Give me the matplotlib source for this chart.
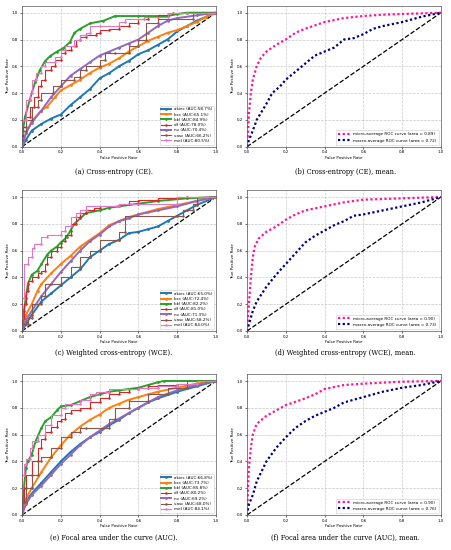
import matplotlib
matplotlib.use("Agg")
import matplotlib.pyplot as plt
import numpy as np

classes = ["akiec", "bcc", "bkl", "df", "nv", "vasc", "mel"]
colors = ["#1f77b4", "#ff7f0e", "#2ca02c", "#d62728", "#9467bd", "#8c564b", "#e377c2"]
step_classes = ["df", "vasc", "mel"]

# ---------------- Panel (a): Cross-entropy ----------------
ce_auc = [58.7, 65.1, 84.9, 78.0, 70.4, 66.2, 80.5]
ce_akiec_x = [0, 0.02, 0.05, 0.1, 0.15, 0.2, 0.25, 0.3, 0.35, 0.4, 0.45, 0.5, 0.55, 0.6, 0.65, 0.7, 0.75, 0.8, 0.85, 0.9, 0.95, 1]
ce_akiec_y = [0, 0.05, 0.12, 0.17, 0.21, 0.24, 0.31, 0.37, 0.43, 0.51, 0.55, 0.6, 0.64, 0.69, 0.72, 0.76, 0.8, 0.86, 0.9, 0.94, 0.97, 1]
ce_bcc_x = [0, 0.02, 0.05, 0.1, 0.13, 0.17, 0.2, 0.25, 0.3, 0.35, 0.4, 0.45, 0.5, 0.55, 0.6, 0.65, 0.7, 0.75, 0.8, 0.85, 0.9, 0.95, 1]
ce_bcc_y = [0, 0.1, 0.19, 0.27, 0.3, 0.37, 0.42, 0.46, 0.5, 0.55, 0.59, 0.62, 0.66, 0.71, 0.75, 0.79, 0.82, 0.85, 0.87, 0.9, 0.93, 0.97, 1]
ce_bkl_x = [0, 0.005, 0.015, 0.04, 0.067, 0.093, 0.12, 0.144, 0.18, 0.213, 0.247, 0.27, 0.3, 0.35, 0.42, 0.48, 0.6, 0.75, 0.8, 0.85, 1]
ce_bkl_y = [0, 0.12, 0.22, 0.35, 0.48, 0.575, 0.64, 0.675, 0.71, 0.735, 0.78, 0.85, 0.88, 0.92, 0.94, 0.975, 0.975, 0.975, 0.99, 1.0, 1]
ce_df_x = [0, 0.005, 0.02, 0.04, 0.06, 0.08, 0.1, 0.12, 0.15, 0.17, 0.2, 0.22, 0.25, 0.28, 0.3, 0.33, 0.38, 0.4, 0.45, 0.5, 0.55, 0.6, 0.65, 0.7, 0.75, 0.78, 1]
ce_df_y = [0, 0.08, 0.15, 0.22, 0.3, 0.37, 0.45, 0.5, 0.57, 0.6, 0.65, 0.7, 0.72, 0.75, 0.8, 0.82, 0.83, 0.85, 0.87, 0.88, 0.9, 0.92, 0.95, 0.97, 0.98, 1.0, 1]
ce_nv_x = [0, 0.02, 0.05, 0.1, 0.15, 0.2, 0.25, 0.3, 0.35, 0.4, 0.45, 0.5, 0.55, 0.6, 0.65, 0.7, 0.75, 0.8, 0.9, 1]
ce_nv_y = [0, 0.1, 0.18, 0.27, 0.37, 0.45, 0.53, 0.58, 0.63, 0.68, 0.71, 0.74, 0.77, 0.8, 0.85, 0.9, 0.94, 0.96, 0.98, 1]
ce_vasc_x = [0, 0.02, 0.05, 0.08, 0.1, 0.16, 0.2, 0.27, 0.3, 0.33, 0.4, 0.43, 0.48, 0.55, 0.6, 0.64, 0.7, 0.88, 0.95, 1.0]
ce_vasc_y = [0.05, 0.12, 0.2, 0.3, 0.35, 0.4, 0.45, 0.5, 0.52, 0.57, 0.6, 0.65, 0.7, 0.7, 0.75, 0.8, 0.92, 0.95, 1.0, 1.0]
ce_mel_x = [0, 0.02, 0.04, 0.05, 0.07, 0.1, 0.12, 0.17, 0.2, 0.22, 0.27, 0.3, 0.33, 0.35, 0.4, 0.5, 0.53, 0.63, 0.75, 0.85, 1.0]
ce_mel_y = [0.1, 0.2, 0.35, 0.4, 0.5, 0.55, 0.6, 0.63, 0.67, 0.72, 0.75, 0.8, 0.83, 0.85, 0.9, 0.9, 0.93, 0.95, 0.97, 1.0, 1.0]

# ---------------- Panel (c): Weighted cross-entropy ----------------
wce_auc = [65.0, 72.4, 82.2, 81.0, 71.3, 58.2, 84.0]
wce_akiec_x = [0, 0.02, 0.05, 0.1, 0.15, 0.2, 0.25, 0.3, 0.35, 0.4, 0.45, 0.5, 0.55, 0.6, 0.65, 0.7, 0.75, 0.8, 0.85, 0.9, 1]
wce_akiec_y = [0, 0.05, 0.12, 0.22, 0.28, 0.34, 0.4, 0.46, 0.55, 0.6, 0.65, 0.68, 0.73, 0.74, 0.76, 0.78, 0.82, 0.86, 0.9, 0.94, 1]
wce_bcc_x = [0, 0.02, 0.05, 0.08, 0.1, 0.15, 0.2, 0.25, 0.3, 0.35, 0.4, 0.45, 0.5, 0.55, 0.6, 0.65, 0.7, 0.8, 0.9, 1]
wce_bcc_y = [0, 0.12, 0.2, 0.3, 0.35, 0.43, 0.5, 0.56, 0.63, 0.68, 0.73, 0.79, 0.82, 0.85, 0.87, 0.89, 0.91, 0.94, 0.97, 1]
wce_bkl_x = [0, 0.01, 0.02, 0.03, 0.05, 0.08, 0.1, 0.13, 0.15, 0.18, 0.2, 0.23, 0.25, 0.27, 0.3, 0.33, 0.4, 0.45, 0.5, 0.6, 0.7, 0.85, 1]
wce_bkl_y = [0, 0.15, 0.25, 0.35, 0.42, 0.45, 0.5, 0.57, 0.6, 0.63, 0.66, 0.7, 0.75, 0.8, 0.84, 0.88, 0.9, 0.92, 0.93, 0.95, 0.97, 0.99, 1]
wce_df_x = [0, 0.01, 0.02, 0.03, 0.05, 0.08, 0.1, 0.12, 0.13, 0.15, 0.18, 0.2, 0.22, 0.25, 0.28, 0.3, 0.33, 0.37, 0.4, 0.5, 0.55, 0.6, 0.7, 0.8, 0.85, 1]
wce_df_y = [0, 0.1, 0.2, 0.3, 0.37, 0.4, 0.43, 0.45, 0.5, 0.55, 0.6, 0.63, 0.67, 0.72, 0.8, 0.85, 0.88, 0.9, 0.92, 0.93, 0.95, 0.97, 0.98, 0.99, 1.0, 1]
wce_nv_x = [0, 0.02, 0.05, 0.1, 0.15, 0.2, 0.25, 0.3, 0.35, 0.4, 0.45, 0.5, 0.55, 0.6, 0.7, 0.8, 0.9, 1]
wce_nv_y = [0, 0.08, 0.15, 0.26, 0.35, 0.44, 0.52, 0.6, 0.67, 0.72, 0.78, 0.82, 0.84, 0.87, 0.9, 0.93, 0.97, 1]
wce_vasc_x = [0, 0.03, 0.05, 0.1, 0.12, 0.2, 0.25, 0.3, 0.35, 0.4, 0.5, 0.53, 0.83, 0.88, 0.9, 0.97, 1.0]
wce_vasc_y = [0.0, 0.05, 0.1, 0.2, 0.26, 0.35, 0.4, 0.48, 0.55, 0.6, 0.68, 0.74, 0.86, 0.9, 0.95, 1.0, 1.0]
wce_mel_x = [0, 0.01, 0.03, 0.05, 0.06, 0.1, 0.13, 0.2, 0.22, 0.25, 0.28, 0.3, 0.33, 0.5, 0.8, 0.95, 1.0]
wce_mel_y = [0.1, 0.25, 0.5, 0.55, 0.62, 0.65, 0.7, 0.72, 0.75, 0.78, 0.85, 0.88, 0.9, 0.93, 0.95, 1.0, 1.0]

# ---------------- Panel (e): Focal AUC ----------------
fauc_auc = [66.8, 73.7, 85.8, 80.2, 69.2, 68.0, 84.1]
fauc_akiec_x = [0, 0.02, 0.05, 0.1, 0.15, 0.2, 0.25, 0.3, 0.35, 0.4, 0.45, 0.5, 0.55, 0.6, 0.65, 0.7, 0.8, 0.9, 1]
fauc_akiec_y = [0, 0.1, 0.16, 0.24, 0.32, 0.4, 0.47, 0.53, 0.58, 0.62, 0.67, 0.71, 0.76, 0.8, 0.84, 0.87, 0.92, 0.96, 1]
fauc_bcc_x = [0, 0.02, 0.05, 0.1, 0.15, 0.2, 0.25, 0.3, 0.35, 0.4, 0.45, 0.5, 0.55, 0.6, 0.65, 0.7, 0.8, 0.9, 1]
fauc_bcc_y = [0, 0.12, 0.2, 0.32, 0.43, 0.52, 0.6, 0.66, 0.71, 0.75, 0.8, 0.83, 0.86, 0.88, 0.9, 0.92, 0.95, 0.98, 1]
fauc_bkl_x = [0, 0.01, 0.02, 0.03, 0.05, 0.07, 0.1, 0.12, 0.15, 0.18, 0.2, 0.25, 0.3, 0.35, 0.4, 0.45, 0.5, 0.55, 0.6, 0.65, 0.7, 0.73, 1]
fauc_bkl_y = [0, 0.2, 0.35, 0.4, 0.45, 0.55, 0.65, 0.7, 0.73, 0.78, 0.81, 0.82, 0.85, 0.88, 0.9, 0.92, 0.93, 0.94, 0.95, 0.97, 0.99, 1.0, 1]
fauc_df_x = [0, 0.01, 0.02, 0.05, 0.08, 0.1, 0.12, 0.15, 0.18, 0.2, 0.22, 0.25, 0.3, 0.35, 0.4, 0.45, 0.5, 0.55, 0.6, 0.65, 0.7, 0.8, 0.9, 1]
fauc_df_y = [0, 0.1, 0.2, 0.3, 0.4, 0.5, 0.57, 0.62, 0.66, 0.7, 0.72, 0.76, 0.78, 0.8, 0.84, 0.87, 0.9, 0.92, 0.94, 0.95, 0.96, 0.97, 0.98, 1]
fauc_nv_x = [0, 0.02, 0.05, 0.1, 0.15, 0.2, 0.25, 0.3, 0.35, 0.4, 0.45, 0.5, 0.55, 0.6, 0.65, 0.7, 0.8, 0.9, 1]
fauc_nv_y = [0, 0.08, 0.15, 0.22, 0.3, 0.38, 0.45, 0.52, 0.58, 0.63, 0.68, 0.72, 0.76, 0.8, 0.84, 0.88, 0.93, 0.97, 1]
fauc_vasc_x = [0, 0.02, 0.05, 0.08, 0.1, 0.15, 0.2, 0.25, 0.3, 0.33, 0.45, 0.48, 0.55, 0.65, 0.75, 0.85, 0.95, 1.0]
fauc_vasc_y = [0.0, 0.1, 0.2, 0.3, 0.4, 0.43, 0.5, 0.58, 0.62, 0.65, 0.65, 0.72, 0.8, 0.85, 0.9, 0.95, 1.0, 1.0]
fauc_mel_x = [0, 0.01, 0.02, 0.04, 0.05, 0.08, 0.12, 0.15, 0.2, 0.22, 0.3, 0.35, 0.38, 0.45, 0.6, 0.7, 0.8, 0.9, 1.0]
fauc_mel_y = [0.2, 0.3, 0.38, 0.42, 0.5, 0.55, 0.6, 0.67, 0.75, 0.8, 0.83, 0.86, 0.9, 0.92, 0.94, 0.95, 0.96, 0.98, 1.0]

# ---------------- Mean panels ----------------
ce_micro_x = [0, 0.005, 0.01, 0.02, 0.03, 0.05, 0.07, 0.1, 0.15, 0.2, 0.25, 0.3, 0.4, 0.5, 0.6, 0.7, 0.8, 0.9, 1]
ce_micro_y = [0, 0.1, 0.25, 0.4, 0.5, 0.6, 0.66, 0.71, 0.76, 0.8, 0.85, 0.88, 0.93, 0.96, 0.975, 0.985, 0.99, 0.995, 1]
ce_macro_x = [0, 0.01, 0.03, 0.05, 0.1, 0.13, 0.17, 0.2, 0.25, 0.3, 0.35, 0.4, 0.45, 0.5, 0.55, 0.6, 0.65, 0.7, 0.8, 0.9, 1]
ce_macro_y = [0, 0.05, 0.12, 0.2, 0.32, 0.4, 0.45, 0.5, 0.56, 0.62, 0.68, 0.71, 0.74, 0.8, 0.81, 0.84, 0.88, 0.9, 0.93, 0.97, 1]
ce_micro_area, ce_macro_area = 0.89, 0.72

wce_micro_x = [0, 0.01, 0.02, 0.03, 0.04, 0.06, 0.1, 0.15, 0.2, 0.25, 0.3, 0.4, 0.5, 0.6, 0.8, 1]
wce_micro_y = [0, 0.2, 0.4, 0.55, 0.63, 0.69, 0.74, 0.78, 0.83, 0.87, 0.9, 0.93, 0.96, 0.98, 0.99, 1]
wce_macro_x = [0, 0.01, 0.03, 0.05, 0.1, 0.15, 0.2, 0.25, 0.3, 0.35, 0.4, 0.45, 0.5, 0.55, 0.6, 0.7, 0.8, 0.9, 1]
wce_macro_y = [0, 0.05, 0.15, 0.22, 0.33, 0.42, 0.5, 0.58, 0.66, 0.71, 0.75, 0.79, 0.82, 0.86, 0.87, 0.9, 0.93, 0.96, 1]
wce_micro_area, wce_macro_area = 0.90, 0.73

fauc_micro_x = [0, 0.005, 0.01, 0.02, 0.03, 0.05, 0.1, 0.15, 0.2, 0.3, 0.35, 0.4, 0.5, 0.6, 0.8, 1]
fauc_micro_y = [0, 0.2, 0.35, 0.5, 0.6, 0.68, 0.74, 0.78, 0.82, 0.87, 0.9, 0.94, 0.97, 0.98, 0.995, 1]
fauc_macro_x = [0, 0.01, 0.03, 0.05, 0.1, 0.15, 0.2, 0.25, 0.3, 0.35, 0.4, 0.45, 0.5, 0.6, 0.7, 0.8, 0.9, 1]
fauc_macro_y = [0, 0.08, 0.15, 0.25, 0.4, 0.5, 0.58, 0.65, 0.7, 0.74, 0.77, 0.8, 0.84, 0.88, 0.92, 0.95, 0.97, 1]
fauc_micro_area, fauc_macro_area = 0.90, 0.76

captions = [
    "(a) Cross-entropy (CE).",
    "(b) Cross-entropy (CE), mean.",
    "(c) Weighted cross-entropy (WCE).",
    "(d) Weighted cross-entropy (WCE), mean.",
    "(e) Focal area under the curve (AUC).",
    "(f) Focal area under the curve (AUC), mean.",
]
ticks = [0.0, 0.2, 0.4, 0.6, 0.8, 1.0]

class_panels = [
    (ce_auc, [(ce_akiec_x, ce_akiec_y), (ce_bcc_x, ce_bcc_y), (ce_bkl_x, ce_bkl_y), (ce_df_x, ce_df_y),
              (ce_nv_x, ce_nv_y), (ce_vasc_x, ce_vasc_y), (ce_mel_x, ce_mel_y)]),
    (wce_auc, [(wce_akiec_x, wce_akiec_y), (wce_bcc_x, wce_bcc_y), (wce_bkl_x, wce_bkl_y), (wce_df_x, wce_df_y),
               (wce_nv_x, wce_nv_y), (wce_vasc_x, wce_vasc_y), (wce_mel_x, wce_mel_y)]),
    (fauc_auc, [(fauc_akiec_x, fauc_akiec_y), (fauc_bcc_x, fauc_bcc_y), (fauc_bkl_x, fauc_bkl_y), (fauc_df_x, fauc_df_y),
                (fauc_nv_x, fauc_nv_y), (fauc_vasc_x, fauc_vasc_y), (fauc_mel_x, fauc_mel_y)]),
]
mean_panels = [
    (ce_micro_x, ce_micro_y, ce_macro_x, ce_macro_y, ce_micro_area, ce_macro_area),
    (wce_micro_x, wce_micro_y, wce_macro_x, wce_macro_y, wce_micro_area, wce_macro_area),
    (fauc_micro_x, fauc_micro_y, fauc_macro_x, fauc_macro_y, fauc_micro_area, fauc_macro_area),
]

W, H = 451, 550
fig = plt.figure(figsize=(W / 100, H / 100), dpi=100)

bottoms = [1 - 146.7 / H, 1 - 331 / H, 1 - 515 / H]
ax_h = 140.7 / H
lefts = [22 / W, 247 / W]
ax_w = 194 / W
cap_y = [1 - 172 / H, 1 - 353 / H, 1 - 538 / H]


def style(ax):
    ax.set_xlim(0, 1.0)
    ax.set_ylim(0, 1.05)
    ax.set_xticks(ticks)
    ax.set_yticks(ticks)
    ax.tick_params(labelsize=2.9, length=1.5, width=0.4, pad=1.2)
    ax.grid(True, linestyle="--", color="#c8c8c8", linewidth=0.5)
    ax.set_axisbelow(True)
    for s in ax.spines.values():
        s.set_color("#555555")
        s.set_linewidth(0.5)
    ax.set_xlabel("False Positive Rate", fontsize=2.9, labelpad=1.2)
    ax.set_ylabel("True Positive Rate", fontsize=2.9, labelpad=1.5)


for r in range(3):
    ax = fig.add_axes([lefts[0], bottoms[r], ax_w, ax_h])
    style(ax)
    aucs, curves = class_panels[r]
    ax.plot([0, 1], [0, 1], "k--", lw=0.9)
    for name, col, auc, (xs, ys) in zip(classes, colors, aucs, curves):
        if name in step_classes:
            ax.plot(xs, ys, color=col, lw=0.8, marker=".", ms=1.6, drawstyle="steps-pre",
                    label=f"{name} (AUC:{auc:.1f}%)")
        else:
            ax.plot(xs, ys, color=col, lw=1.4, marker=".", ms=2.0,
                    label=f"{name} (AUC:{auc:.1f}%)")
    ax.legend(loc="lower right", fontsize=3, labelspacing=0.3, handlelength=2.2,
              borderpad=0.4, framealpha=1, edgecolor="#cccccc", fancybox=True).get_frame().set_linewidth(0.4)

    ax2 = fig.add_axes([lefts[1], bottoms[r], ax_w, ax_h])
    style(ax2)
    mx, my, Mx, My, ma, Ma = mean_panels[r]
    ax2.plot([0, 1], [0, 1], "k--", lw=0.9)
    ax2.plot(mx, my, color="deeppink", linestyle=(0, (1, 1.1)), lw=1.6,
             label=f"micro-average ROC curve (area = {ma:.2f})")
    ax2.plot(Mx, My, color="navy", linestyle=(0, (1, 1.1)), lw=1.6,
             label=f"macro-average ROC curve (area = {Ma:.2f})")
    ax2.legend(loc="lower right", fontsize=3, labelspacing=0.5, handlelength=3,
               borderpad=0.5, framealpha=1, edgecolor="#cccccc").get_frame().set_linewidth(0.4)

centers = [114 / W, 345.5 / W]
for i, txt in enumerate(captions):
    r, c = divmod(i, 2)
    fig.text(centers[c], cap_y[r], txt, fontsize=4.8, family="DejaVu Serif",
             va="center", ha="center")

fig.savefig("out.png", dpi=100)
